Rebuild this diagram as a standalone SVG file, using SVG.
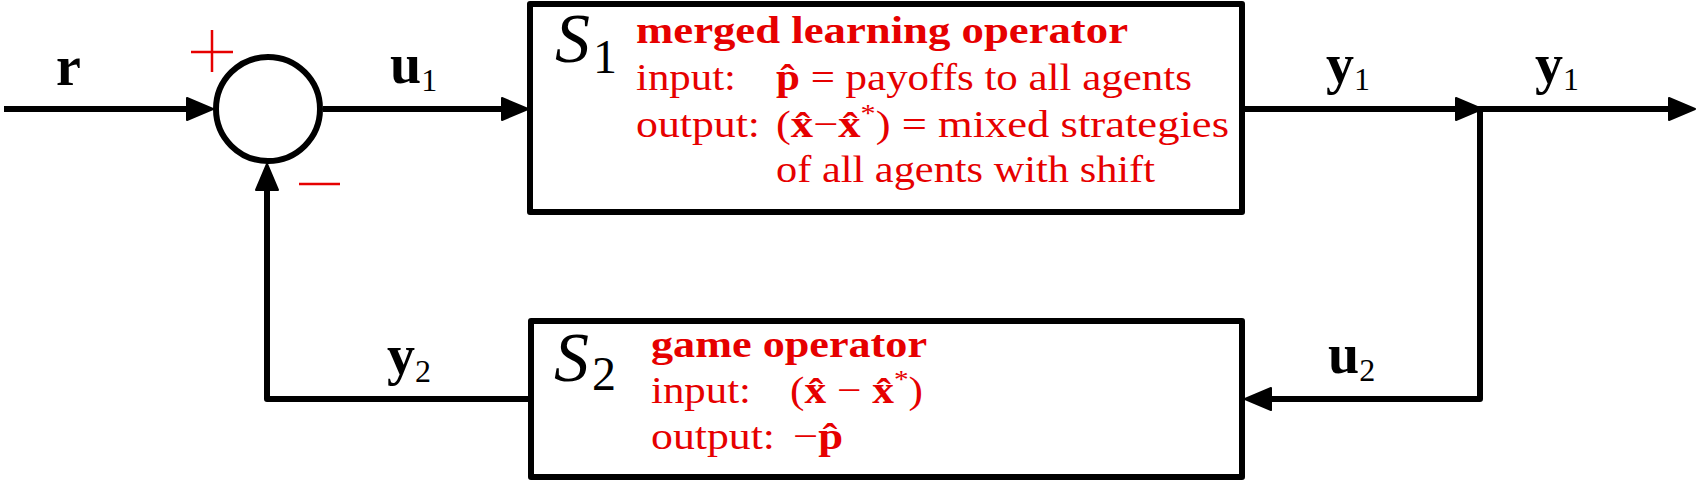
<svg xmlns="http://www.w3.org/2000/svg" xmlns:xlink="http://www.w3.org/1999/xlink" width="1696" height="484" viewBox="0 0 1696 484">
<defs>
<style>
.ln{fill:none;stroke:#000;stroke-width:6;stroke-linejoin:round}
.box{fill:#fff;stroke:#000;stroke-width:6;stroke-linejoin:round}
.ah{fill:#000;stroke:#000;stroke-width:2;stroke-linejoin:round}
.sg{fill:none;stroke:#e60000;stroke-width:2.5}
text{font-family:"Liberation Serif",serif}
.lab{font-size:56px;font-weight:bold;fill:#000}
.sub{font-size:32px;font-weight:normal}
.S{font-size:70px;font-style:italic;fill:#000}
.Ssub{font-size:48px;font-style:normal;fill:#000}
.t{font-size:38.5px;fill:#e60000}
.b{font-weight:bold}
.sup{font-size:26px;font-weight:normal}
</style>
<path id="ah" class="ah" d="M0,0 L-26,-11 L-26,11 Z"/>
</defs>
<rect width="1696" height="484" fill="#fff"/>
<g id="connectors">
<path class="ln" d="M4,109 H200"/>
<use xlink:href="#ah" transform="translate(213,109)"/>
<path class="ln" d="M323,109 H512"/>
<use xlink:href="#ah" transform="translate(528,109)"/>
<path class="ln" d="M1242,109 H1480 H1680"/>
<use xlink:href="#ah" transform="translate(1482,109)"/>
<use xlink:href="#ah" transform="translate(1695,109)"/>
<path class="ln" d="M1480,109 V399 H1260"/>
<use xlink:href="#ah" transform="translate(1245,399) rotate(180)"/>
<path class="ln" d="M531,399 H267 V180"/>
<use xlink:href="#ah" transform="translate(267,164) rotate(-90)"/>
</g>
<g id="summing-junction">
<circle cx="268" cy="109" r="52" fill="#fff" stroke="#000" stroke-width="6"/>
<path class="sg" d="M191,52 H233 M212,30 V72"/>
<path class="sg" d="M299,184 H340"/>
</g>
<g id="labels" font-family="Liberation Serif, serif">
<text class="lab" x="56" y="85">r</text>
<text class="lab" x="390" y="83">u<tspan class="sub" dy="8">1</tspan></text>
<text class="lab" x="1326" y="83">y<tspan class="sub" dy="7">1</tspan></text>
<text class="lab" x="1535" y="83">y<tspan class="sub" dy="7">1</tspan></text>
<text class="lab" x="1328" y="373">u<tspan class="sub" dy="8">2</tspan></text>
<text class="lab" x="387" y="374">y<tspan class="sub" dy="8">2</tspan></text>
</g>
<g id="S1" font-family="Liberation Serif, serif">
<rect class="box" x="530" y="4" width="712" height="208"/>
<text class="S" x="555" y="62">S</text>
<text class="Ssub" x="593" y="73">1</text>
<text class="t b" x="636" y="43" textLength="492" lengthAdjust="spacingAndGlyphs">merged learning operator</text>
<text class="t" x="636" y="90" textLength="100" lengthAdjust="spacingAndGlyphs">input:</text>
<text class="t" x="776" y="90" textLength="416" lengthAdjust="spacingAndGlyphs"><tspan class="b">p̂</tspan> = payoffs to all agents</text>
<text class="t" x="636" y="137" textLength="124" lengthAdjust="spacingAndGlyphs">output:</text>
<text class="t" x="776" y="137" textLength="453" lengthAdjust="spacingAndGlyphs">(<tspan class="b">x̂</tspan>−<tspan class="b">x̂</tspan><tspan class="sup" dy="-15">*</tspan><tspan dy="15">) = mixed strategies</tspan></text>
<text class="t" x="776" y="182" textLength="379" lengthAdjust="spacingAndGlyphs">of all agents with shift</text>
</g>
<g id="S2" font-family="Liberation Serif, serif">
<rect class="box" x="531" y="321" width="711" height="156"/>
<text class="S" x="554" y="381">S</text>
<text class="Ssub" x="592" y="390">2</text>
<text class="t b" x="651" y="357" textLength="276" lengthAdjust="spacingAndGlyphs">game operator</text>
<text class="t" x="651" y="403" textLength="100" lengthAdjust="spacingAndGlyphs">input:</text>
<text class="t" x="790" y="403" textLength="133" lengthAdjust="spacingAndGlyphs">(<tspan class="b">x̂</tspan> − <tspan class="b">x̂</tspan><tspan class="sup" dy="-15">*</tspan><tspan dy="15">)</tspan></text>
<text class="t" x="651" y="449" textLength="124" lengthAdjust="spacingAndGlyphs">output:</text>
<text class="t" x="793" y="449" textLength="50" lengthAdjust="spacingAndGlyphs">−<tspan class="b">p̂</tspan></text>
</g>
</svg>
